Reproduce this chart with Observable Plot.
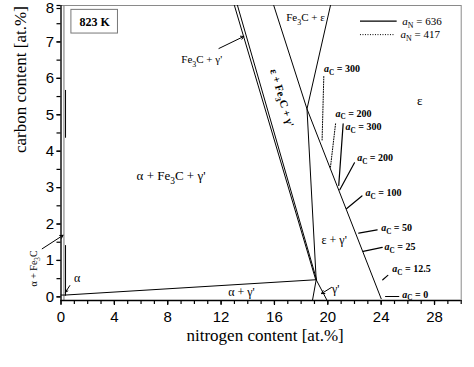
<!DOCTYPE html>
<html><head><meta charset="utf-8">
<script src="https://cdn.jsdelivr.net/npm/d3@7"></script>
<script src="https://cdn.jsdelivr.net/npm/@observablehq/plot@0.6"></script>
<style>body{margin:0;background:#fff} #chart svg{display:block}</style>
</head><body><div id="chart"></div>
<script>
// ---- axis ticks ----
const xMajorTicks = [0, 4, 8, 12, 16, 20, 24, 28];
const yMajorTicks = [0, 1, 2, 3, 4, 5, 6, 7];
const yTopTick = [8];
const xMinorTicks = d3.range(0, 31, 1);
const yMinorTicks = d3.range(0, 8.01, 0.5);
const xTitle = "nitrogen content [at.%]";
const yTitle = "carbon content [at.%]";

// ---- phase boundaries (N at.%, C at.%) ----
const boundaries = [
  {name: "Fe3C+γ' a", pts: [[13.0, 8], [19.08, 0.49]]},
  {name: "Fe3C+γ' b", pts: [[13.23, 8], [19.16, 0.47]]},
  {name: "ε left", pts: [[15.95, 8], [18.44, 5.16], [24.0, -0.05]]},
  {name: "Fe3C+ε right", pts: [[20.2, 8], [18.44, 5.16], [19.13, 0.47]]},
  {name: "α+γ'", pts: [[0.34, 0.05], [19.13, 0.47]]},
  {name: "γ' left", pts: [[19.13, 0.47], [18.85, -0.1]]},
  {name: "γ' right", pts: [[19.13, 0.47], [19.95, -0.1]]},
  {name: "α corner", pts: [[0, 0.05], [0.34, 0.05]]},
  {name: "α seg 1", pts: [[0.34, 0.05], [0.34, 1.41]]},
  {name: "α seg 2", pts: [[0.34, 4.38], [0.34, 5.67]]}
];
const alphaBoundary = [{name: "α/α+Fe3C", pts: [[0.22, -0.1], [0.22, 8]]}];

// ---- carbon activity iso-lines ----
const isoSolid = [
  {aC: "300", pts: [[21.15, 4.75], [20.82, 3.06]]},
  {aC: "200", pts: [[22.0, 3.68], [20.9, 2.94]]},
  {aC: "100", pts: [[22.56, 2.77], [21.4, 2.42]]},
  {aC: "50", pts: [[23.7, 1.84], [22.32, 1.75]]},
  {aC: "25", pts: [[24.08, 1.36], [22.65, 1.25]]},
  {aC: "12.5", pts: [[24.5, 0.59], [24.12, 0.47]]},
  {aC: "0", pts: [[24.33, 0.01], [25.32, 0.01]]}
];
const isoDotted = [
  {aC: "300", pts: [[19.7, 6.05], [19.57, 4.27]]},
  {aC: "200", pts: [[20.58, 4.75], [20.2, 3.56]]}
];
const isoLabels = [
  {text: "*a*_C = 300", x: 19.72, y: 6.27},
  {text: "*a*_C = 200", x: 20.58, y: 5.04},
  {text: "*a*_C = 300", x: 21.33, y: 4.66},
  {text: "*a*_C = 200", x: 22.2, y: 3.83},
  {text: "*a*_C = 100", x: 22.83, y: 2.87},
  {text: "*a*_C = 50", x: 24.0, y: 1.9},
  {text: "*a*_C = 25", x: 24.25, y: 1.38},
  {text: "*a*_C = 12.5", x: 24.83, y: 0.76},
  {text: "*a*_C = 0", x: 25.58, y: 0.07}
];

// ---- legend ----
const legendItems = [
  {label: "*a*_N = 636", x1: 22.45, x2: 25.2, y: 7.57, dash: null},
  {label: "*a*_N = 417", x1: 22.45, x2: 25.07, y: 7.2, dash: "1,1.5"}
];

// ---- region labels ----
const regionLabels = [
  {text: "α + Fe_3C + γ'", x: 8.25, y: 3.33, size: 13, rotate: 0, weight: "normal"},
  {text: "Fe_3C + γ'", x: 10.55, y: 6.51, size: 11, rotate: 0, weight: "normal"},
  {text: "Fe_3C + ε", x: 18.33, y: 7.66, size: 11, rotate: 0, weight: "normal"},
  {text: "ε + Fe_3C + γ'", x: 16.57, y: 5.46, size: 11, rotate: 73.4, weight: "bold"},
  {text: "ε", x: 26.9, y: 5.39, size: 13, rotate: 0, weight: "normal"},
  {text: "ε + γ'", x: 20.48, y: 1.57, size: 12, rotate: 0, weight: "normal"},
  {text: "α + γ'", x: 13.53, y: 0.13, size: 12, rotate: 0, weight: "normal"},
  {text: "γ'", x: 20.6, y: 0.22, size: 12, rotate: 0, weight: "normal"},
  {text: "α", x: 1.21, y: 0.52, size: 12, rotate: 0, weight: "normal"},
  {text: "α + Fe_3C", x: -2.04, y: 0.78, size: 10, rotate: -90, weight: "normal"}
];
const arrows = [
  {x1: 11.84, y1: 6.82, x2: 13.7, y2: 7.15},
  {x1: 20.28, y1: 0.26, x2: 19.53, y2: 0.09},
  {x1: 0.66, y1: 0.31, x2: 0.34, y2: 0.13},
  {x1: -1.41, y1: 1.32, x2: 0.15, y2: 1.69}
];
const tempBox = [{text: "823 K", x1: 0.78, x2: 4.27, y1: 7.23, y2: 7.88}];

const flat = arr => arr.flatMap((b, i) => b.pts.map(([x, y]) => ({id: i, x, y})));
const serif = "Liberation Serif, Times New Roman, serif";
const sans = "Liberation Sans, Arial, sans-serif";

const plot = Plot.plot({
  width: 474, height: 367,
  marginLeft: 60.5, marginRight: 13.3, marginTop: 5, marginBottom: 67,
  x: {domain: [0, 30], axis: null},
  y: {domain: [-0.1, 8], axis: null},
  style: {background: "white", color: "black", overflow: "visible"},
  marks: [
    Plot.frame({stroke: "#8a8a8a"}),
    Plot.line(flat(alphaBoundary), {x: "x", y: "y", z: "id", stroke: "#8a8a8a", strokeWidth: 1.2}),
    Plot.line(flat(boundaries), {x: "x", y: "y", z: "id", stroke: "black", strokeWidth: 1}),
    Plot.line(flat(isoSolid), {x: "x", y: "y", z: "id", stroke: "black", strokeWidth: 1.2}),
    Plot.line(flat(isoDotted), {x: "x", y: "y", z: "id", stroke: "black", strokeWidth: 1, strokeDasharray: "1,1.5"}),
    Plot.arrow(arrows, {x1: "x1", y1: "y1", x2: "x2", y2: "y2", stroke: "black", strokeWidth: 1, headLength: 5, clip: false}),
    Plot.rect(tempBox, {x1: "x1", x2: "x2", y1: "y1", y2: "y2", fill: "white", stroke: "#777", strokeWidth: 1}),
    Plot.text(tempBox, {x: d => (d.x1 + d.x2) / 2, y: d => (d.y1 + d.y2) / 2, text: "text", fontFamily: serif, fontWeight: "bold", fontSize: 12}),
    Plot.ruleY(legendItems.filter(d => !d.dash), {x1: "x1", x2: "x2", y: "y", stroke: "black", strokeWidth: 1.2}),
    Plot.ruleY(legendItems.filter(d => d.dash), {x1: "x1", x2: "x2", y: "y", stroke: "black", strokeWidth: 1, strokeDasharray: "1,1.5"}),
    Plot.text(legendItems, {x: d => d.x2 + 0.38, y: "y", text: "label", textAnchor: "start", fontFamily: serif, fontSize: 11}),
    Plot.text(isoLabels, {x: "x", y: "y", text: "text", textAnchor: "start", fontFamily: serif, fontWeight: "bold", fontSize: 10}),
    ...regionLabels.map(d => Plot.text([d], {x: "x", y: "y", text: "text", rotate: d.rotate, fontFamily: serif, fontWeight: d.weight, fontSize: d.size, clip: false})),
    Plot.ruleY([-0.1], {stroke: "black", strokeWidth: 1.5}),
    Plot.ruleX([0], {stroke: "black", strokeWidth: 1.2}),
    Plot.axisX(xMinorTicks, {tickSize: 4, tickFormat: () => "", label: null, strokeWidth: 1.2}),
    Plot.axisX(xMajorTicks, {tickSize: 5, tickPadding: 6, label: null, fontSize: 15, fontFamily: sans, strokeWidth: 1.2}),
    Plot.axisY(yMinorTicks, {tickSize: 4, tickFormat: () => "", label: null, strokeWidth: 1.2}),
    Plot.axisY(yMajorTicks, {tickSize: 4, tickPadding: 3, label: null, fontSize: 15, fontFamily: sans, strokeWidth: 1.2}),
    Plot.axisY(yTopTick, {tickSize: 4, tickPadding: 3, label: null, fontSize: 15, fontFamily: sans, strokeWidth: 1.2, dy: 3}),
    Plot.text([xTitle], {frameAnchor: "bottom", dx: 4, dy: 40, fontFamily: serif, fontSize: 17}),
    Plot.text([yTitle], {frameAnchor: "left", dx: -40.5, rotate: -90, fontFamily: serif, fontSize: 17})
  ]
});
document.getElementById("chart").appendChild(plot);

// rich text: *..* italic, _X subscript
function richify(svg) {
  svg.querySelectorAll("text").forEach(t => {
    const s = t.textContent;
    if (!/[_*]/.test(s) || t.children.length) return;
    const fs = parseFloat(getComputedStyle(t).fontSize) || 10;
    const segs = [];
    let italic = false, buf = "";
    for (let i = 0; i < s.length; i++) {
      const c = s[i];
      if (c === "*") { if (buf) segs.push({text: buf, italic, sub: false}); buf = ""; italic = !italic; }
      else if (c === "_") { if (buf) segs.push({text: buf, italic, sub: false}); buf = ""; segs.push({text: s[i + 1], italic, sub: true}); i++; }
      else buf += c;
    }
    if (buf) segs.push({text: buf, italic, sub: false});
    t.textContent = "";
    let shifted = false;
    for (const sg of segs) {
      const ts = document.createElementNS("http://www.w3.org/2000/svg", "tspan");
      ts.textContent = sg.text;
      if (sg.italic) ts.setAttribute("font-style", "italic");
      if (sg.sub) { ts.setAttribute("font-size", (fs * 0.72).toFixed(1)); ts.setAttribute("dy", (fs * 0.3).toFixed(1)); shifted = true; }
      else if (shifted) { ts.setAttribute("dy", (-fs * 0.3).toFixed(1)); shifted = false; }
      t.appendChild(ts);
    }
  });
}
richify(plot);
</script>
</body></html>
